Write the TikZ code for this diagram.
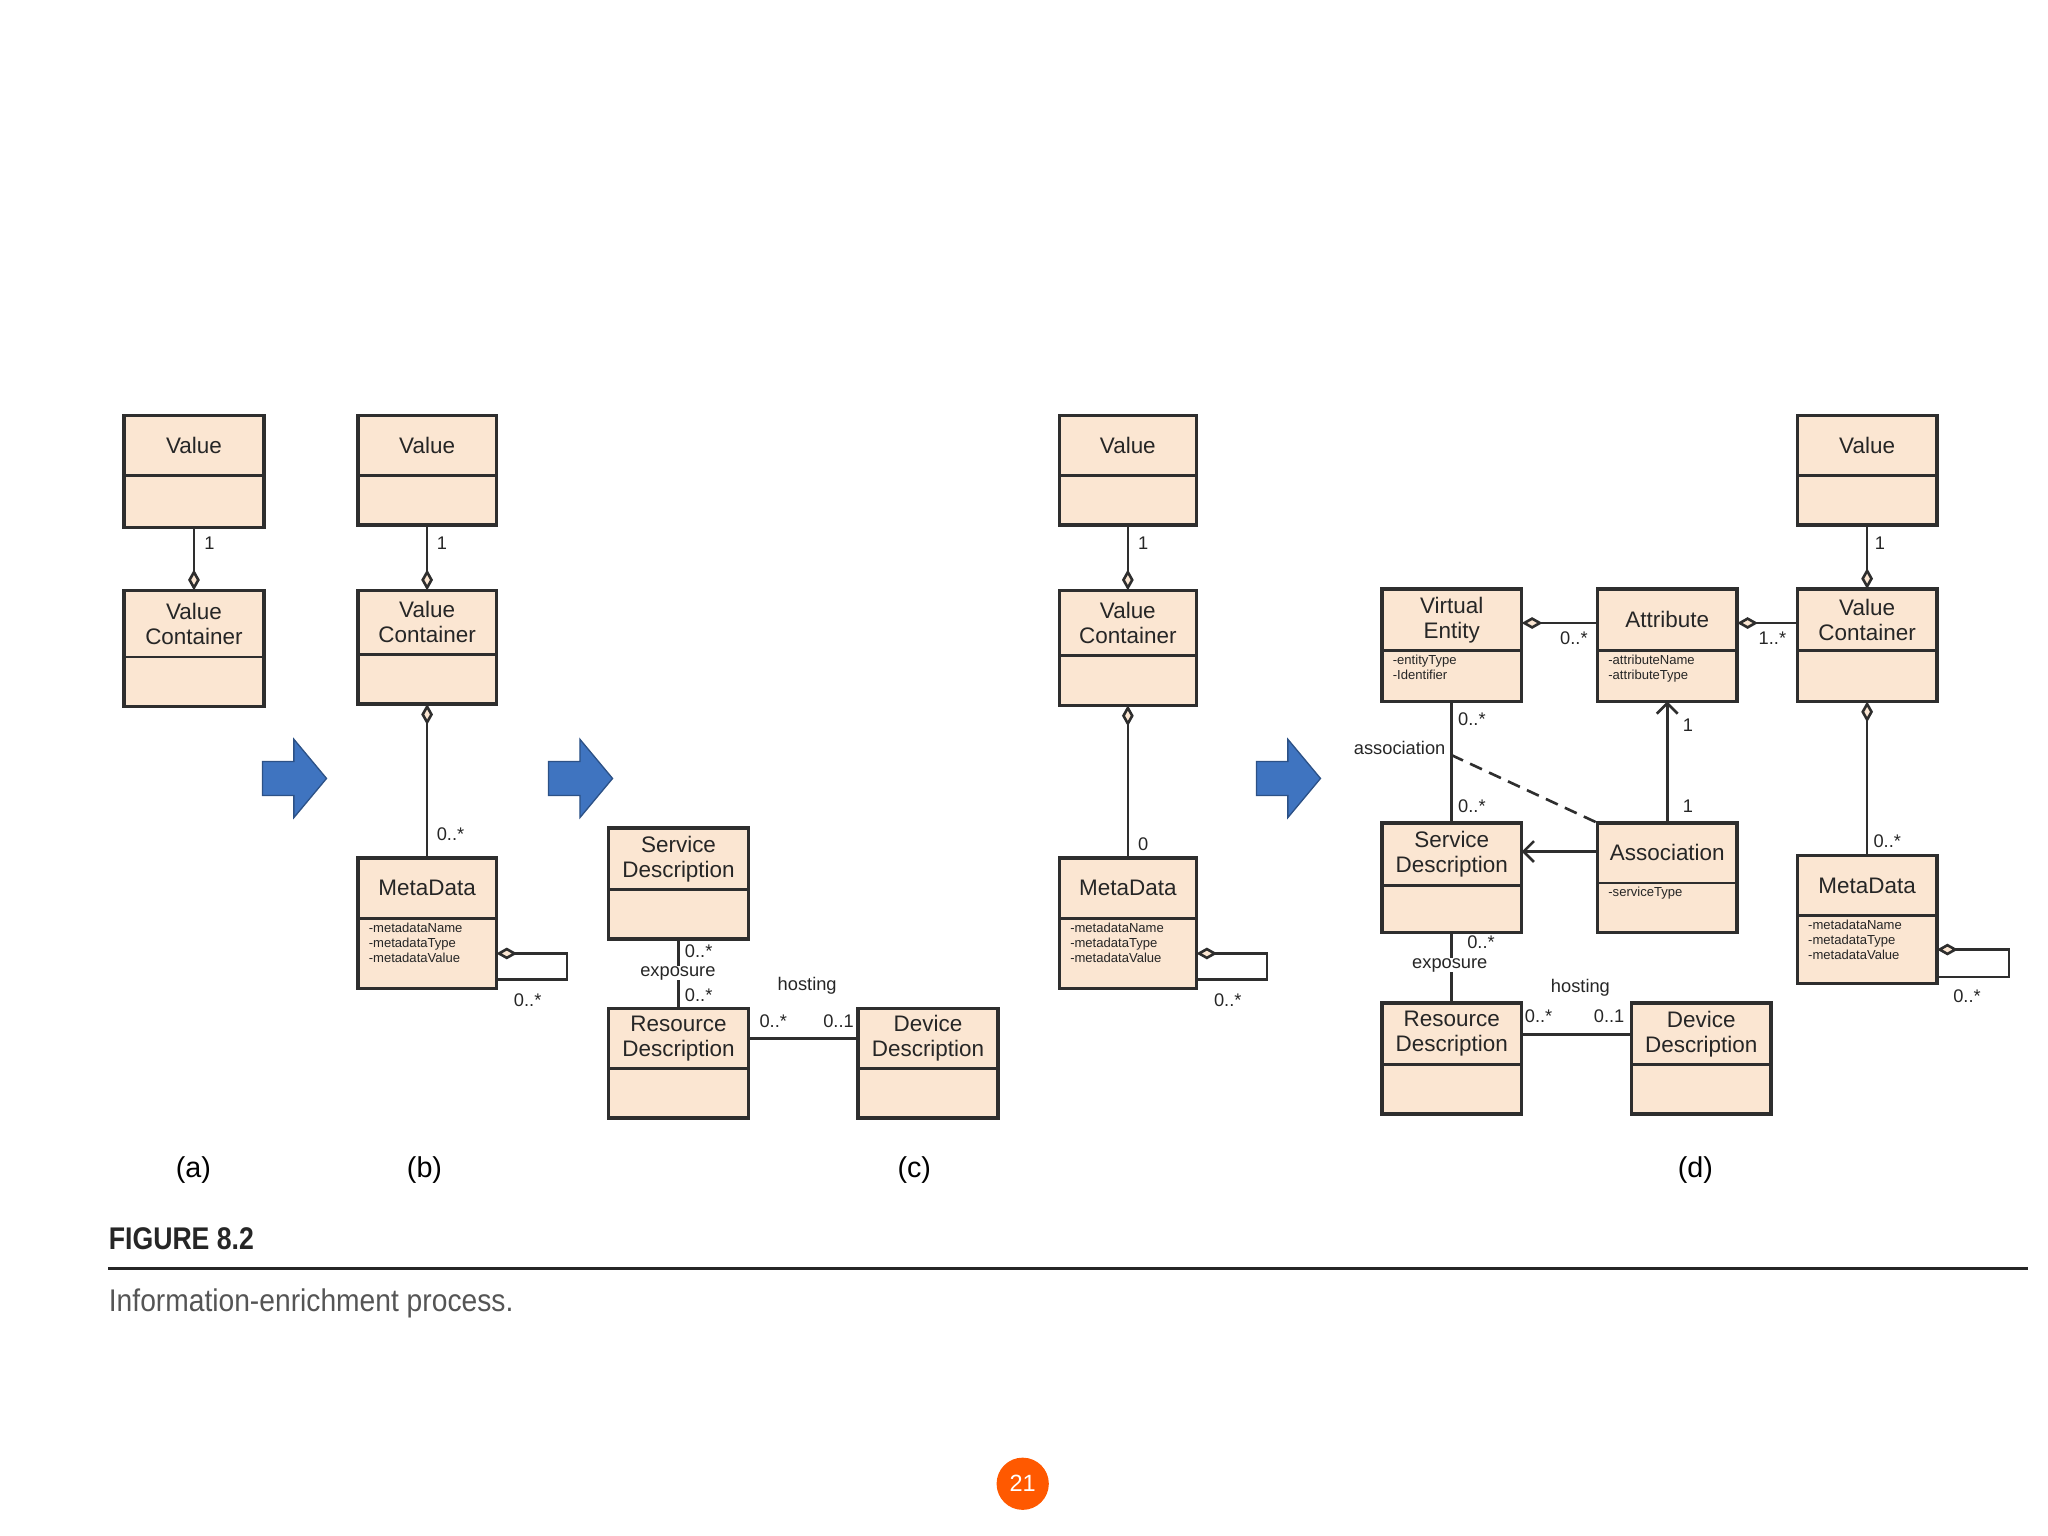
\documentclass[tikz,border=0pt]{standalone}
\usepackage{fontspec}
\setmainfont{Liberation Sans}
\usetikzlibrary{arrows.meta,calc}
\definecolor{peach}{HTML}{FBE6D2}
\definecolor{bline}{HTML}{2E2E2E}
\definecolor{blu}{HTML}{3F74C0}
\definecolor{cap}{HTML}{555555}
\tikzset{
 ubx/.style={draw=bline,line width=1.3pt,fill=peach,inner sep=0pt,outer sep=0pt},
 boxline/.style={draw=bline,line width=1.1pt},
 ttl/.style={font=\fontsize{8.6}{9.6}\selectfont,align=center,text=black!85,inner sep=0pt},
 attr/.style={font=\fontsize{5}{5.8}\selectfont,align=left,text=black!85,inner sep=0pt},
 lab/.style={font=\fontsize{7}{8}\selectfont,text=black!85,inner sep=1pt},
 con/.style={draw=bline,line width=1pt},
 agg/.style={con,{Diamond[open,length=8pt,width=4.5pt,fill=peach]}-},
 opn/.style={con,-{Straight Barb[length=4pt,width=8pt]}},
 barrow/.style={fill=blu,draw=blu!70!black,line width=0.5pt},
}
\newcommand\ubox[8]{%
 \node[ubx,minimum width=(#4-#2)*0.5pt,minimum height=(#5-#3)*0.5pt] (#1) at ({(#2+#4)/2},{(#3+#5)/2}) {};
 \draw[boxline] (#2,#6) -- (#4,#6);
 \node[ttl] at ({(#2+#4)/2},{(#3+#6)/2}) {#7};
 \node[attr,anchor=north west] at (#2+8,#6+3) {#8};}
\newcommand\bluearrow[3]{% name,x,y
 \fill[barrow] (#2-24,#3-13) -- (#2,#3-13) -- (#2,#3-30) -- (#2+25,#3) -- (#2,#3+30) -- (#2,#3+13) -- (#2-24,#3+13) -- cycle;
 \coordinate (#1) at (#2,#3);}
\begin{document}
\begin{tikzpicture}[x=0.5pt,y=-0.5pt]
\useasboundingbox (0,0) rectangle (1568,1176);
% (a)
\ubox{va}{95}{318}{202}{404}{364}{Value}{}
\ubox{vca}{95}{452}{202}{541}{503}{Value\\Container}{}
\draw[agg] (vca.north) -- (va.south);
\node[lab,anchor=west] at (154,416) {1};
% (b)
\ubox{vb}{274}{318}{380}{402}{364}{Value}{}
\ubox{vcb}{274}{452}{380}{539}{501}{Value\\Container}{}
\ubox{mdb}{274}{657}{380}{757}{703}{MetaData}{-metadataName\\-metadataType\\-metadataValue}
\draw[agg] (vcb.north) -- (vb.south);
\node[lab,anchor=west] at (332,416) {1};
\draw[agg] (vcb.south) -- (mdb.north);
\node[lab,anchor=west] at (332,639) {0..*};
\coordinate (lb1) at (434,730); \coordinate (lb2) at (434,750);
\draw[agg] (mdb.east|-lb1) -- (lb1) -- (lb2) -- (mdb.east|-lb2);
\node[lab] at (404,766) {0..*};
\bluearrow{ar1}{225}{596}
\bluearrow{ar2}{444}{596}
% (c)
\ubox{sdc}{466}{634}{573}{719}{681}{Service\\Description}{}
\ubox{rdc}{466}{772}{573}{856}{818}{Resource\\Description}{}
\ubox{ddc}{657}{772}{764}{856}{818}{Device\\Description}{}
\draw[con] (sdc.south) -- (rdc.north);
\node[lab,fill=white,inner sep=0pt] at (519,745) {exposure};
\node[lab,anchor=west] at (522,728) {0..*};
\node[lab,anchor=west] at (522,762) {0..*};
\coordinate (hc) at (600,795);
\draw[con] (rdc.east|-hc) -- (ddc.west|-hc);
\node[lab] at (592,782) {0..*};
\node[lab] at (642,782) {0..1};
\node[lab] at (618,755) {hosting};
\ubox{vm}{811}{318}{916}{402}{364}{Value}{}
\ubox{vcm}{811}{452}{916}{540}{502}{Value\\Container}{}
\ubox{mdm}{811}{657}{916}{757}{703}{MetaData}{-metadataName\\-metadataType\\-metadataValue}
\draw[agg] (vcm.north) -- (vm.south);
\node[lab,anchor=west] at (869,416) {1};
\draw[agg] (vcm.south) -- (mdm.north);
\node[lab,anchor=west] at (869,646) {0};
\coordinate (lm1) at (970,730); \coordinate (lm2) at (970,750);
\draw[agg] (mdm.east|-lm1) -- (lm1) -- (lm2) -- (mdm.east|-lm2);
\node[lab] at (940,766) {0..*};
\bluearrow{ar3}{986}{596}
% (d)
\ubox{ve}{1058}{451}{1165}{537}{498}{Virtual\\Entity}{-entityType\\-Identifier}
\ubox{at}{1223}{451}{1330}{537}{498}{Attribute}{-attributeName\\-attributeType}
\ubox{vd}{1376}{318}{1483}{402}{364}{Value}{}
\ubox{vcd}{1376}{451}{1483}{537}{498}{Value\\Container}{}
\ubox{mdd}{1376}{655}{1483}{753}{701}{MetaData}{-metadataName\\-metadataType\\-metadataValue}
\ubox{sdd}{1058}{630}{1165}{714}{678}{Service\\Description}{}
\ubox{as}{1223}{630}{1330}{714}{676}{Association}{-serviceType}
\ubox{rdd}{1058}{768}{1165}{853}{815}{Resource\\Description}{}
\ubox{ddd}{1249}{768}{1356}{853}{815}{Device\\Description}{}
\draw[agg] (vcd.north) -- (vd.south);
\node[lab,anchor=west] at (1433,416) {1};
\draw[agg] (vcd.south) -- (mdd.north);
\node[lab,anchor=west] at (1432,644) {0..*};
\coordinate (ld1) at (1538,727); \coordinate (ld2) at (1538,748);
\draw[agg] (mdd.east|-ld1) -- (ld1) -- (ld2) -- (mdd.east|-ld2);
\node[lab] at (1506,763) {0..*};
\coordinate (hd1) at (1200,477);
\draw[agg] (ve.east|-hd1) -- (at.west|-hd1);
\node[lab] at (1205,489) {0..*};
\draw[agg] (at.east|-hd1) -- (vcd.west|-hd1);
\node[lab] at (1357,489) {1..*};
\coordinate (hd2) at (1200,652);
\draw[opn] (as.west|-hd2) -- (sdd.east|-hd2);
\draw[opn] (as.north) -- (at.south);
\node[lab,anchor=west] at (1286,555) {1};
\node[lab,anchor=west] at (1286,617) {1};
\draw[con] (ve.south) -- (sdd.north);
\node[lab,anchor=west] at (1114,551) {0..*};
\node[lab,anchor=west] at (1114,617) {0..*};
\node[lab,anchor=east] (asl) at (1109,573) {association};
\coordinate (dd) at (1111,578);
\draw[con,dashed,dash pattern=on 5pt off 3pt] (dd) -- (as.north west);
\draw[con] (sdd.south) -- (rdd.north);
\node[lab,fill=white,inner sep=0pt] at (1110,739) {exposure};
\node[lab,anchor=west] at (1121,721) {0..*};
\coordinate (hd3) at (1200,792);
\draw[con] (rdd.east|-hd3) -- (ddd.west|-hd3);
\node[lab] at (1178,778) {0..*};
\node[lab] at (1232,778) {0..1};
\node[lab] at (1210,756) {hosting};
% captions
\node[font=\fontsize{11}{12}\selectfont] at (148,896) {(a)};
\node[font=\fontsize{11}{12}\selectfont] at (325,896) {(b)};
\node[font=\fontsize{11}{12}\selectfont] at (700,896) {(c)};
\node[font=\fontsize{11}{12}\selectfont] at (1298,896) {(d)};
\node[anchor=west,inner sep=0pt,font=\bfseries\fontsize{12}{14}\selectfont,xscale=0.85,text=black!85] (fig) at (83,948) {FIGURE 8.2};
\coordinate (r1) at (83,971); \coordinate (r2) at (1553,971);
\draw[line width=1.2pt,black!85] (r1) -- (r2);
\node[anchor=west,inner sep=0pt,font=\fontsize{12}{14}\selectfont,xscale=0.9,text=cap] (capt) at (83,998) {Information-enrichment process.};
\node[circle,fill=orange!70!red,minimum size=20pt,inner sep=0pt,text=white,font=\fontsize{9}{10}\selectfont] (pg) at (783,1136) {21};
\end{tikzpicture}
\end{document}
